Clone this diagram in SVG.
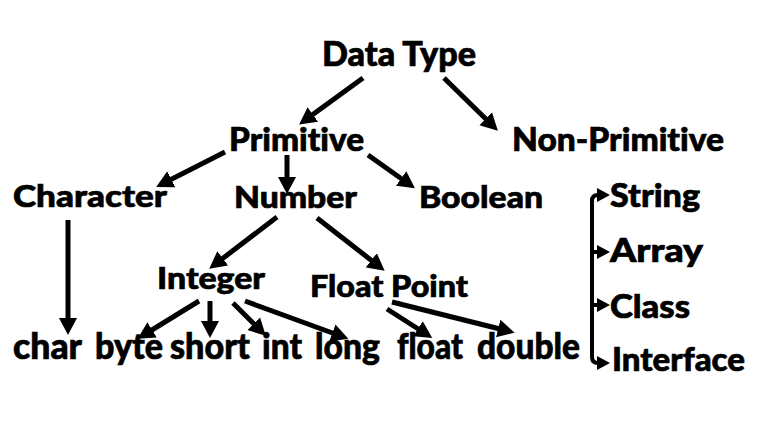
<svg xmlns="http://www.w3.org/2000/svg" width="768" height="432" viewBox="0 0 768 432">
<style>
text{font-family:Lato,"Liberation Sans",sans-serif;font-weight:900;fill:#000;stroke:#000;stroke-width:0.7;font-variant-ligatures:none}
.l{stroke:#000;stroke-width:5;fill:none;stroke-linecap:butt;marker-end:url(#ah)}
.b{stroke:#000;stroke-width:4;fill:none;marker-end:url(#sh)}
</style>
<defs>
<marker id="ah" markerUnits="userSpaceOnUse" markerWidth="18" markerHeight="20" refX="6" refY="10" orient="auto" viewBox="0 0 18 20">
<path d="M0,1 L17,10 L0,19 z" fill="#000"/>
</marker>
<marker id="sh" markerUnits="userSpaceOnUse" markerWidth="14" markerHeight="16" refX="3" refY="8" orient="auto" viewBox="0 0 14 16">
<path d="M0,1 L13,8 L0,15 z" fill="#000"/>
</marker>
</defs>
<rect width="768" height="432" fill="#fff"/>
<g id="connectors">
<line class="l" x1="363" y1="78" x2="308" y2="118"/>
<line class="l" x1="444" y1="78" x2="490" y2="123"/>
<line class="l" x1="225" y1="152" x2="166" y2="182"/>
<line class="l" x1="287" y1="155" x2="287" y2="183"/>
<line class="l" x1="368" y1="155" x2="406" y2="182"/>
<line class="l" x1="277" y1="217" x2="218" y2="262"/>
<line class="l" x1="317" y1="218" x2="376" y2="264"/>
<line class="l" x1="68" y1="220" x2="68" y2="324"/>
<line class="l" x1="199" y1="301" x2="147" y2="333"/>
<line class="l" x1="210" y1="301" x2="210" y2="327"/>
<line class="l" x1="233" y1="303" x2="258" y2="328"/>
<line class="l" x1="245" y1="301" x2="338" y2="335"/>
<line class="l" x1="387" y1="309" x2="423" y2="332"/>
<line class="l" x1="392" y1="302" x2="504" y2="330"/>
<path d="M592,201 Q592,195 598,195 L600,195" class="b"/>
<path d="M592,198 L592,357 Q592,363 598,363 L600,363" class="b"/>
<line class="b" x1="592" y1="252" x2="600" y2="252"/>
<line class="b" x1="592" y1="305" x2="600" y2="305"/>
</g>
<g id="datatype"><text x="322" y="66" font-size="34" textLength="154" lengthAdjust="spacingAndGlyphs">Data Type</text></g>
<g id="primitive"><text x="229" y="151" font-size="32" textLength="135" lengthAdjust="spacingAndGlyphs">Primitive</text></g>
<g id="nonprimitive"><text x="512" y="151" font-size="32" textLength="212" lengthAdjust="spacingAndGlyphs">Non-Primitive</text></g>
<g id="character"><text x="13" y="207" font-size="31" textLength="154" lengthAdjust="spacingAndGlyphs">Character</text></g>
<g id="number"><text x="234" y="208" font-size="31" textLength="123" lengthAdjust="spacingAndGlyphs">Number</text></g>
<g id="boolean"><text x="419" y="208" font-size="31" textLength="124" lengthAdjust="spacingAndGlyphs">Boolean</text></g>
<g id="integer"><text x="157" y="289" font-size="31" textLength="108" lengthAdjust="spacingAndGlyphs">Integer</text></g>
<g id="floatpoint"><text x="310" y="297" font-size="31" textLength="158" lengthAdjust="spacingAndGlyphs">Float Point</text></g>
<g id="char"><text x="13" y="359" font-size="36" textLength="69" lengthAdjust="spacingAndGlyphs">char</text></g>
<g id="byte"><text x="95" y="359" font-size="36" textLength="68" lengthAdjust="spacingAndGlyphs">byte</text></g>
<g id="short"><text x="170" y="359" font-size="36" textLength="80" lengthAdjust="spacingAndGlyphs">short</text></g>
<g id="int"><text x="262" y="359" font-size="36" textLength="40" lengthAdjust="spacingAndGlyphs">int</text></g>
<g id="long"><text x="315" y="359" font-size="36" textLength="65" lengthAdjust="spacingAndGlyphs">long</text></g>
<g id="float"><text x="397" y="359" font-size="36" textLength="66" lengthAdjust="spacingAndGlyphs">float</text></g>
<g id="double"><text x="477" y="359" font-size="36" textLength="103" lengthAdjust="spacingAndGlyphs">double</text></g>
<g id="string"><text x="610" y="207" font-size="33" textLength="90" lengthAdjust="spacingAndGlyphs">String</text></g>
<g id="array"><text x="610" y="262" font-size="33" textLength="93" lengthAdjust="spacingAndGlyphs">Array</text></g>
<g id="class"><text x="610" y="318" font-size="33" textLength="80" lengthAdjust="spacingAndGlyphs">Class</text></g>
<g id="interface"><text x="612" y="371" font-size="33" textLength="133" lengthAdjust="spacingAndGlyphs">Interface</text></g>
</svg>
